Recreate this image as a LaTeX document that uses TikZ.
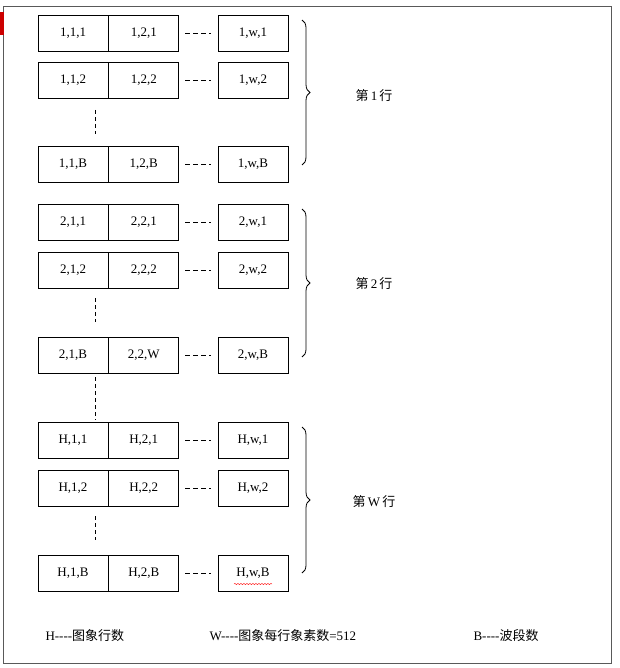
\documentclass[tikz,border=0pt]{standalone}
\usepackage{fontspec}
\setmainfont{Liberation Serif}
\newfontfamily\cjk{Noto Sans CJK SC}
\usetikzlibrary{decorations.pathreplacing,decorations.pathmorphing}
\begin{document}
\begin{tikzpicture}[x=1pt,y=-1pt,
  cell/.style={draw,line width=0.8pt,minimum width=70pt,minimum height=36pt,inner sep=0pt,font=\fontsize{13}{14}\selectfont},
  vdash/.style={line width=0.8pt,dash pattern=on 4pt off 3pt},
  hdash/.style={line width=0.8pt,dash pattern=on 5pt off 3pt},
  brc/.style={decorate,decoration={brace,amplitude=8pt},line width=0.8pt},
  lbl/.style={font=\fontsize{13}{14}\selectfont}]
\useasboundingbox (0,0) rectangle (619,668);
\fill[white] (0,0) rectangle (619,668);
\draw[line width=0.8pt,gray!70!black] (3,6) rectangle (611,663);
\fill[red!80!black] (0,12) rectangle (4,35);
\def\row#1#2#3#4#5{%
  \node[cell] (#1a) at (73,#2) {#3};
  \node[cell,anchor=west] (#1b) at (#1a.east) {#4};
  \node[cell] (#1c) at (253,#2) {#5};
  \draw[hdash] ([xshift=6pt]#1b.east) -- ([xshift=-7pt]#1c.west);}
\row{r11}{33}{1,1,1}{1,2,1}{1,w,1}
\row{r12}{80}{1,1,2}{1,2,2}{1,w,2}
\row{r13}{164}{1,1,B}{1,2,B}{1,w,B}
\row{r21}{222}{2,1,1}{2,2,1}{2,w,1}
\row{r22}{270}{2,1,2}{2,2,2}{2,w,2}
\row{r23}{355}{2,1,B}{2,2,W}{2,w,B}
\row{r31}{440}{H,1,1}{H,2,1}{H,w,1}
\row{r32}{488}{H,1,2}{H,2,2}{H,w,2}
\row{r33}{573}{H,1,B}{H,2,B}{H,w,B}
\draw[red,decorate,decoration={snake,amplitude=0.6pt,segment length=3pt}] (234,584) -- (272,584);
\draw[vdash] (95,110) -- (95,134);
\draw[vdash] (95,298) -- (95,322);
\draw[vdash] (95,377) -- (95,420);
\draw[vdash] (95,516) -- (95,540);
\draw[brc] (302,20) -- (302,165);
\draw[brc] (302,209) -- (302,357);
\draw[brc] (302,427) -- (302,573);
\node[lbl] (g1) at (374,96) {{\cjk 第}\,1\,{\cjk 行}};
\node[lbl] (g2) at (374,284) {{\cjk 第}\,2\,{\cjk 行}};
\node[lbl] (g3) at (374,502) {{\cjk 第}\,W\,{\cjk 行}};
\node[lbl,anchor=west] (l1) at (42,636) {H{-}{-}{-}{-}{\cjk 图象行数}};
\node[lbl,anchor=west] (l2) at (206,636) {W{-}{-}{-}{-}{\cjk 图象每行象素数}=512};
\node[lbl,anchor=west] (l3) at (470,636) {B{-}{-}{-}{-}{\cjk 波段数}};
\end{tikzpicture}
\end{document}
